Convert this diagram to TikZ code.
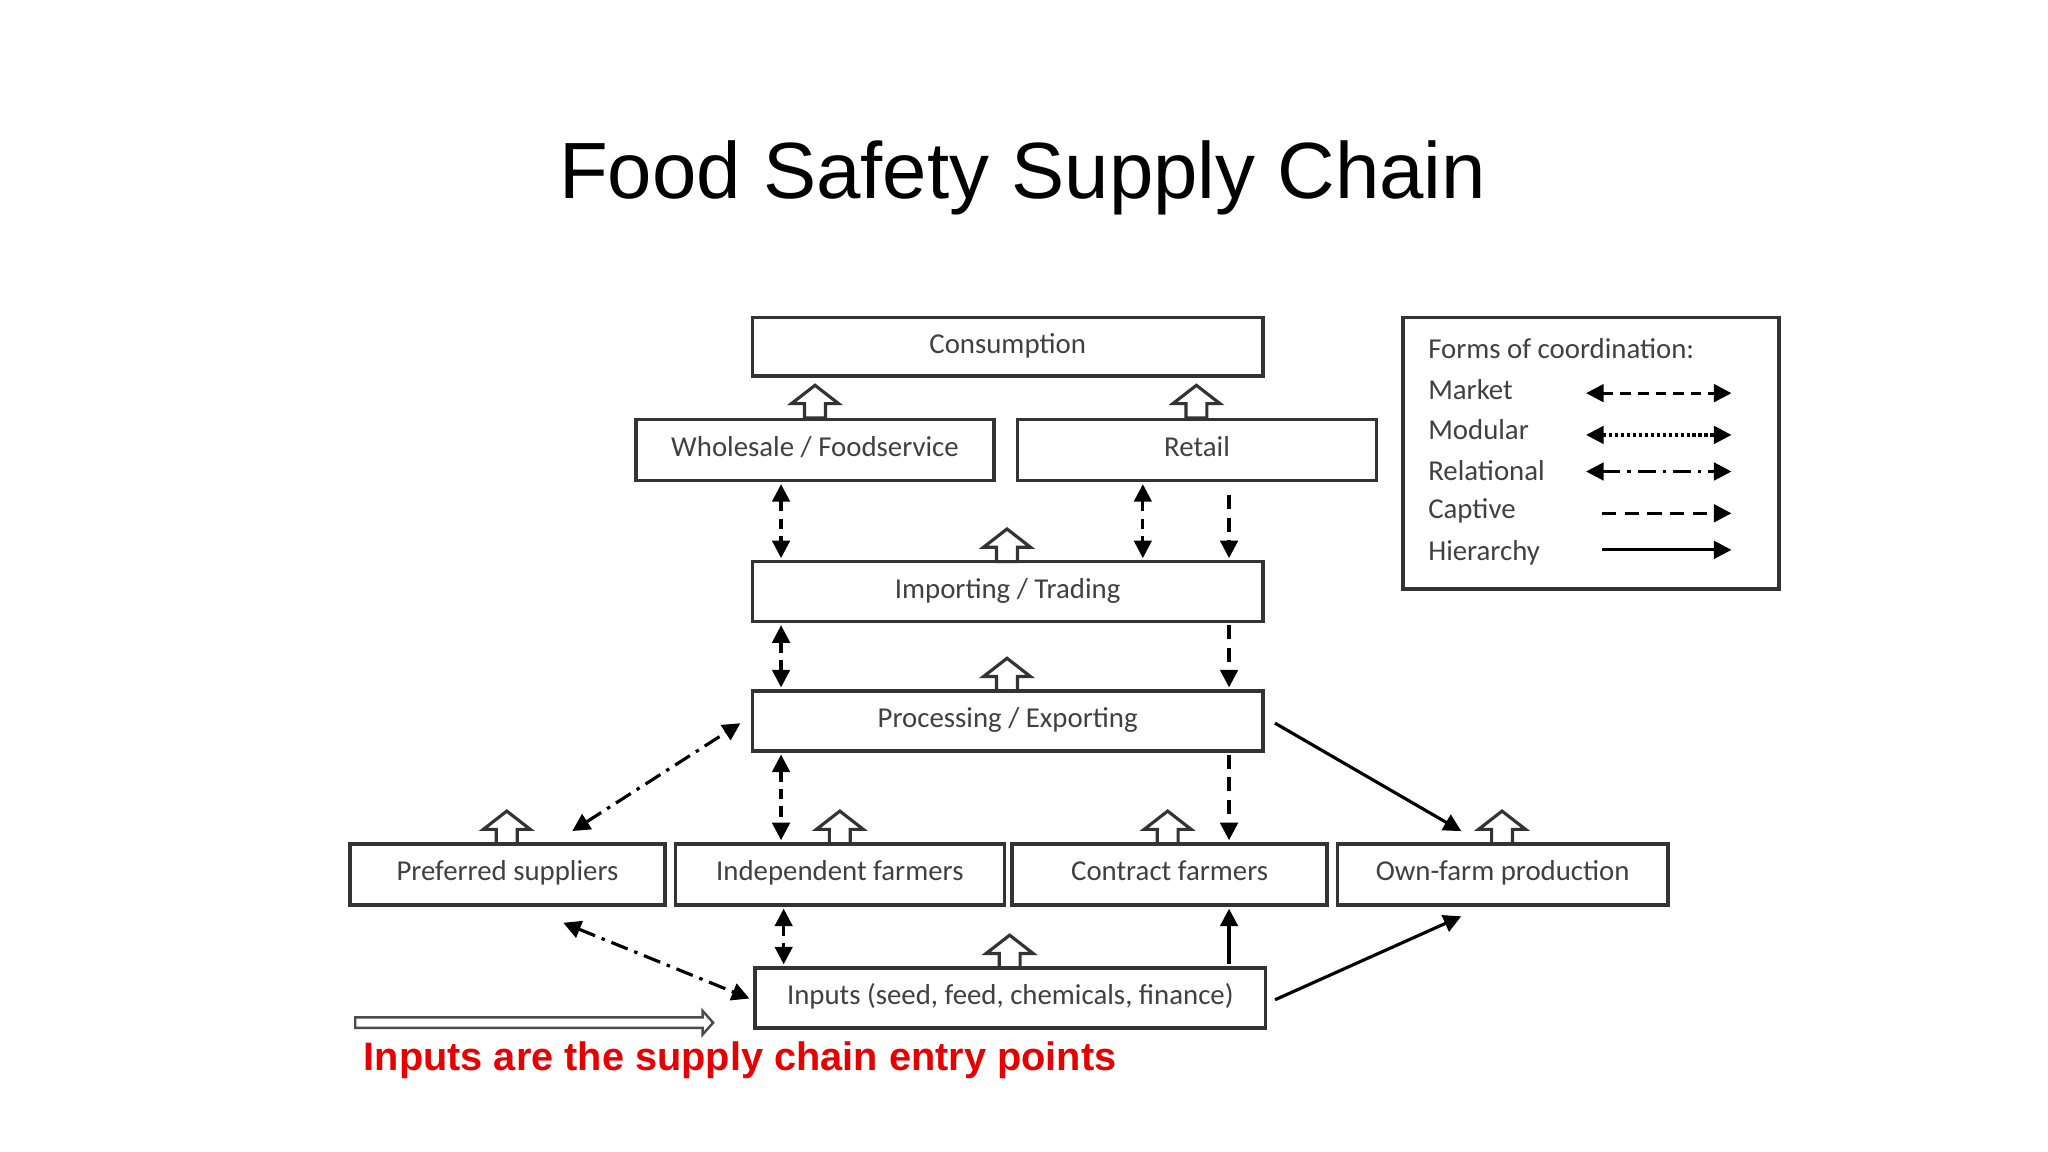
\documentclass[tikz,border=0pt]{standalone}
\usepackage{fontspec}
\setmainfont{Liberation Sans}
\newfontfamily\boxfont{Carlito}
\usetikzlibrary{arrows.meta}
\begin{document}
\begin{tikzpicture}[x=0.01306cm,y=-0.01306cm,
  box/.style={draw=black!80,line width=1pt,font=\boxfont\fontsize{8.2}{9}\selectfont,text=black!75,inner sep=0pt},
  con/.style={line width=0.9pt,shorten <=0.5pt,shorten >=0.5pt},
  market/.style={con,dash pattern=on 3pt off 2pt,{Triangle[length=5pt,width=5pt]}-{Triangle[length=5pt,width=5pt]}},
  modular/.style={con,dash pattern=on 1pt off 0.7pt,{Triangle[length=5pt,width=5pt]}-{Triangle[length=5pt,width=5pt]}},
  relational/.style={con,dash pattern=on 5pt off 2pt on 1pt off 2pt,{Triangle[length=5pt,width=5pt]}-{Triangle[length=5pt,width=5pt]}},
  captive/.style={con,dash pattern=on 4pt off 2.5pt,-{Triangle[length=5pt,width=5pt]}},
  hier/.style={con,-{Triangle[length=5pt,width=5pt]}},
  blk/.style={draw=black!80,line width=0.9pt,fill=white}]
\fill[white] (0,0) rectangle (1568,882);
\newcommand\pbox[6]{\node[box,minimum width={(#4-#2)*0.01306cm},minimum height={(#5-#3)*0.01306cm}] (#1) at ({(#2+#4)/2},{(#3+#5)/2}) {\raisebox{2pt}{#6}};}
\newcommand\uparr[2]{\draw[blk] (#1-8,#2) -- (#1-8,#2-11) -- (#1-18,#2-11) -- (#1,#2-25) -- (#1+18,#2-11) -- (#1+8,#2-11) -- (#1+8,#2) -- cycle;}
\node[font=\fontsize{22.7}{27}\selectfont] (title) at (783,136) {Food Safety Supply Chain};
\uparr{624}{320}\uparr{916}{320}\uparr{771}{430}\uparr{771}{529}
\uparr{388}{646}\uparr{643}{646}\uparr{894}{646}\uparr{1150}{646}\uparr{773}{741}
\pbox{cons}{576}{243}{967}{288}{Consumption}
\pbox{wh}{487}{321}{761}{368}{Wholesale / Foodservice}
\pbox{ret}{779}{321}{1054}{368}{Retail}
\pbox{imp}{576}{430}{967}{476}{Importing / Trading}
\pbox{proc}{576}{529}{967}{575}{Processing / Exporting}
\pbox{pref}{268}{646}{509}{693}{Preferred suppliers}
\pbox{ind}{517}{646}{769}{693}{Independent farmers}
\pbox{con}{775}{646}{1016}{693}{Contract farmers}
\pbox{own}{1024}{646}{1277}{693}{Own-farm production}
\pbox{inp}{578}{741}{969}{787}{Inputs (seed, feed, chemicals, finance)}
% connectors
\draw[market] (wh.south -| 598,0) -- (imp.north -| 598,0);
\draw[market] (ret.south -| 875,0) -- (imp.north -| 875,0);
\draw[captive] ([yshift=-3pt]ret.south -| 941,0) -- (imp.north -| 941,0);
\draw[market] (imp.south -| 598,0) -- (proc.north -| 598,0);
\draw[captive] (imp.south -| 941,0) -- (proc.north -| 941,0);
\draw[market] (proc.south -| 598,0) -- (ind.north -| 598,0);
\draw[captive] (proc.south -| 941,0) -- (con.north -| 941,0);
\draw[market] (ind.south -| 600,0) -- (inp.north -| 600,0);
\draw[hier] (inp.north -| 941,0) -- (con.south -| 941,0);
\coordinate (p1) at (437,637); \coordinate (p2) at (568,553);
\coordinate (p3) at (430,706); \coordinate (p4) at (575,765);
\coordinate (o1) at (975,553); \coordinate (o2) at (1120,637);
\coordinate (o3) at (975,766); \coordinate (o4) at (1120,701);
\draw[relational] (p1) -- (p2);
\draw[relational] (p3) -- (p4);
\draw[hier] (o1) -- (o2);
\draw[hier] (o3) -- (o4);
% legend
\node[draw=black!80,line width=1pt,minimum width={288*0.01306cm},minimum height={208*0.01306cm},inner sep=0pt] (leg) at (1218,347) {};
\begin{scope}[every node/.style={anchor=west,font=\boxfont\fontsize{8.2}{9}\selectfont,text=black!75,inner sep=0pt}]
\node (lt) at (1093,267) {Forms of coordination:};
\node (l1) at (1093,298) {Market};
\node (l2) at (1093,329) {Modular};
\node (l3) at (1093,360) {Relational};
\node (l4) at (1093,391) {Captive};
\node (l5) at (1093,423) {Hierarchy};
\end{scope}
\coordinate (a1) at (1213,301); \coordinate (b1) at (1327,301);
\coordinate (a2) at (1213,333); \coordinate (b2) at (1327,333);
\coordinate (a3) at (1213,361); \coordinate (b3) at (1327,361);
\coordinate (a4) at (1225,393); \coordinate (b4) at (1327,393);
\coordinate (a5) at (1225,421); \coordinate (b5) at (1327,421);
\draw[market] (a1) -- (b1);
\draw[modular] (a2) -- (b2);
\draw[relational] (a3) -- (b3);
\draw[captive] (a4) -- (b4);
\draw[hier] (a5) -- (b5);
% bottom hollow arrow
\draw[black!70,line width=0.7pt,fill=white] (272,779) -- (538,779) -- (538,774) -- (546,783) -- (538,792) -- (538,787) -- (272,787) -- cycle;
\node[anchor=west,font=\bfseries\fontsize{11.3}{13}\selectfont,text={rgb,255:red,230;green,0;blue,0},inner sep=0pt] (note) at (278,812) {Inputs are the supply chain entry points};
\end{tikzpicture}
\end{document}
